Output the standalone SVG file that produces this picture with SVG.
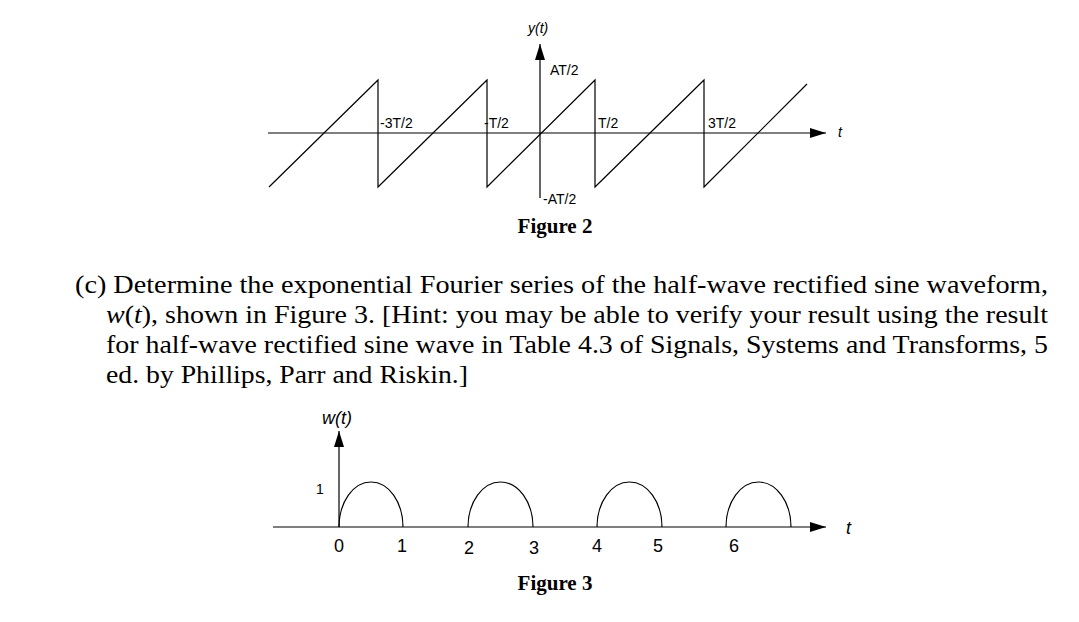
<svg xmlns="http://www.w3.org/2000/svg" width="1079" height="622" viewBox="0 0 1079 622">
<style>
.ln{stroke:#000;stroke-width:1.2;fill:none}
.s{font-family:"Liberation Sans",Arial,sans-serif;font-size:14px}
.m{font-family:"Liberation Sans",Arial,sans-serif;font-size:18px}
.p{font-family:"Liberation Serif","Times New Roman",serif;font-size:26px}
.cap{font-family:"Liberation Serif","Times New Roman",serif;font-size:21px;font-weight:bold}
</style>
<defs><marker id="ar" markerWidth="16" markerHeight="10" refX="16" refY="5" orient="auto" markerUnits="userSpaceOnUse"><path d="M0,0L16,5L0,10z"/></marker></defs>
<rect width="1079" height="622" fill="#fff"/>
<g id="fig2">
<line class="ln" x1="268" y1="133" x2="826" y2="133" marker-end="url(#ar)"/>
<line class="ln" x1="540" y1="198" x2="540" y2="44" marker-end="url(#ar)"/>
<path class="ln" d="M269,187L378,80V187L487,80V187L595,80V187L704,80V187L807,84"/>
<text class="s" x="528" y="33" font-style="italic">y(t)</text>
<text class="s" x="550" y="75">AT/2</text>
<text class="s" x="543" y="204">-AT/2</text>
<text class="s" x="380" y="128">-3T/2</text>
<text class="s" x="484" y="128">-T/2</text>
<text class="s" x="598" y="128">T/2</text>
<text class="s" x="708" y="128">3T/2</text>
<text class="s" x="838" y="137" font-style="italic">t</text>
<text class="cap" x="555" y="233" text-anchor="middle">Figure 2</text>
</g>
<g id="text">
<text class="p" x="75" y="293" textLength="973" lengthAdjust="spacingAndGlyphs">(c) Determine the exponential Fourier series of the half-wave rectified sine waveform,</text>
<text class="p" x="106" y="323" textLength="942" lengthAdjust="spacingAndGlyphs"><tspan font-style="italic">w</tspan>(<tspan font-style="italic">t</tspan>), shown in Figure 3. [Hint: you may be able to verify your result using the result</text>
<text class="p" x="106" y="353" textLength="942" lengthAdjust="spacingAndGlyphs">for half-wave rectified sine wave in Table 4.3 of Signals, Systems and Transforms, 5</text>
<text class="p" x="106" y="383" textLength="362" lengthAdjust="spacingAndGlyphs">ed. by Phillips, Parr and Riskin.]</text>
</g>
<g id="fig3">
<line class="ln" x1="273" y1="527" x2="826" y2="527" marker-end="url(#ar)"/>
<line class="ln" x1="339" y1="527" x2="339" y2="431" marker-end="url(#ar)"/>
<path class="ln" d="M339,527A32,45 0 0 1 403,527M468,527A32.5,45 0 0 1 533,527M597,527A32.5,45 0 0 1 662,527M726,527A32.5,45 0 0 1 791,527"/>
<text class="m" x="322" y="424" font-style="italic">w(t)</text>
<text class="s" x="316" y="494">1</text>
<text class="m" x="846" y="534" font-style="italic">t</text>
<g class="m" text-anchor="middle">
<text x="339" y="552">0</text><text x="402" y="552">1</text><text x="469" y="554">2</text><text x="534" y="554">3</text><text x="597" y="552">4</text><text x="658" y="552">5</text><text x="734" y="552">6</text>
</g>
<text class="cap" x="555" y="590" text-anchor="middle">Figure 3</text>
</g>
</svg>
